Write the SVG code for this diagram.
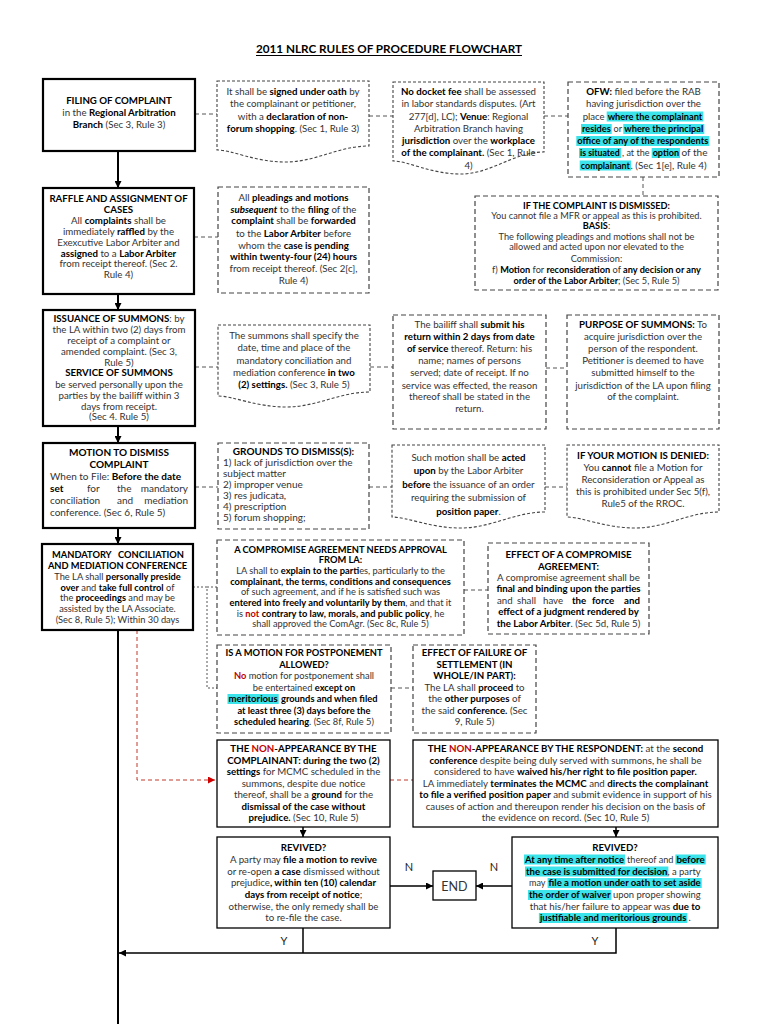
<svg xmlns="http://www.w3.org/2000/svg" width="768" height="1024" viewBox="0 0 768 1024">
<style>
text{font-family:Lato,"Open Sans","Liberation Sans",sans-serif;font-size:9.7px;fill:#333;text-anchor:middle}
.b{font-weight:bold;fill:#000}
.i{font-style:italic}
.r{font-weight:bold;fill:#c00000}
.s{text-anchor:start}
.e{text-anchor:end}
.sm{font-size:9.2px}
.md{font-size:9.3px}
.lg{font-size:10px}
.title{font-size:11px;font-weight:bold;fill:#000}
.lbl{font-size:11px;fill:#222}
.main{fill:#fff;stroke:#000;stroke-width:2.2}
.thin{fill:#fff;stroke:#000;stroke-width:1.3}
.dash{fill:#fff;stroke:#444;stroke-width:1.2;stroke-dasharray:5 3}
.doc{fill:#fff;stroke:#444;stroke-width:1.1;stroke-dasharray:3 2}
.hl{fill:#3be3ea}
.c{fill:none;stroke:#555;stroke-width:1;stroke-dasharray:4 3}
.dot{fill:none;stroke:#555;stroke-width:1;stroke-dasharray:2 2}
.flow{fill:none;stroke:#000;stroke-width:2}
.flow1{fill:none;stroke:#000;stroke-width:1.5}
.red{fill:none;stroke:#c0392b;stroke-width:1;stroke-dasharray:4 3}
</style>
<defs>
<marker id="ah" viewBox="0 0 10 10" refX="10" refY="5" markerWidth="7" markerHeight="7" markerUnits="userSpaceOnUse" orient="auto"><path d="M0,0 L10,5 L0,10 z" fill="#000"/></marker>
<marker id="ahr" viewBox="0 0 10 10" refX="10" refY="5" markerWidth="7" markerHeight="7" markerUnits="userSpaceOnUse" orient="auto"><path d="M0,0 L10,5 L0,10 z" fill="#d00000"/></marker>
</defs>

<g id="title">
<text x="389" y="53" class="title" textLength="266" lengthAdjust="spacingAndGlyphs">2011 NLRC RULES OF PROCEDURE FLOWCHART</text>
<line x1="256" y1="55.5" x2="522" y2="55.5" stroke="#000" stroke-width="1"/>
</g>

<g id="connectors">
<path class="flow" d="M118,151 V188" marker-end="url(#ah)"/>
<path class="flow" d="M118,294 V310" marker-end="url(#ah)"/>
<path class="flow" d="M118,426 V443" marker-end="url(#ah)"/>
<path class="flow" d="M118,528 V544" marker-end="url(#ah)"/>
<path class="flow" d="M118,630 V1024"/>
<path class="c" d="M195,114 H217"/>
<path class="c" d="M369,116 H393"/>
<path class="c" d="M544,116 H568"/>
<path class="c" d="M643,177 V196"/>
<path class="c" d="M194,237 H218"/>
<path class="c" d="M195,367 H218"/>
<path class="c" d="M370,367 H393"/>
<path class="c" d="M546,368 H567"/>
<path class="c" d="M195,487 H218"/>
<path class="c" d="M369,487 H392"/>
<path class="c" d="M545,487 H567"/>
<path class="dot" d="M193,587 H207 V688 H217 M207,587 H217"/>
<path class="c" d="M464,590 H488"/>
<path class="c" d="M391,688 H413"/>
<path class="red" d="M137,630 V780 H215" marker-end="url(#ahr)"/>
<path class="red" d="M390,780 H413"/>
<path class="flow1" d="M303,827 V837" marker-end="url(#ah)"/>
<path class="flow1" d="M616,827 V837" marker-end="url(#ah)"/>
<path class="flow1" d="M390,886 H433" marker-end="url(#ah)"/>
<path class="flow1" d="M512,886 H476" marker-end="url(#ah)"/>
<path class="flow1" d="M303,928 V953"/>
<path class="flow1" d="M616,928 V953 H119" marker-end="url(#ah)"/>
<text x="409" y="871" class="lbl">N</text>
<text x="494" y="871" class="lbl">N</text>
<text x="284" y="945" class="lbl">Y</text>
<text x="595" y="945" class="lbl">Y</text>
</g>

<g id="filing">
<rect class="main" x="43" y="79" width="152" height="72"/>
<text x="119" y="104"><tspan class="b">FILING OF COMPLAINT</tspan></text>
<text x="119" y="116">in the <tspan class="b">Regional Arbitration</tspan></text>
<text x="119" y="128"><tspan class="b">Branch</tspan> (Sec 3, Rule 3)</text>
</g>

<g id="oath">
<path class="doc" d="M217,81 H369 V146 C338.6,146 315.8,162 285.4,162 C255,162 232.2,150 217,150 Z"/>
<text x="293" y="94.5">It shall be <tspan class="b">signed under oath</tspan> by</text>
<text x="293" y="107">the complainant or petitioner,</text>
<text x="293" y="119.5">with a <tspan class="b">declaration of non-</tspan></text>
<text x="293" y="132"><tspan class="b">forum shopping</tspan>. (Sec 1, Rule 3)</text>
</g>

<g id="docket">
<path class="doc" d="M393,82 H544 V152 C513.8,152 491.2,174 461,174 C430.8,174 408.1,161 393,161 Z"/>
<text x="468.5" y="95"><tspan class="b">No docket fee</tspan> shall be assessed</text>
<text x="468.5" y="107">in labor standards disputes. (Art</text>
<text x="468.5" y="119.5">277[d], LC); <tspan class="b">Venue</tspan>: Regional</text>
<text x="468.5" y="132">Arbitration Branch having</text>
<text x="468.5" y="144"><tspan class="b">jurisdiction</tspan> over the <tspan class="b">workplace</tspan></text>
<text x="468.5" y="156"><tspan class="b">of the complainant.</tspan> (Sec 1, Rule</text>
<text x="468.5" y="168.5">4)</text>
</g>

<g id="ofw">
<rect class="dash" x="568" y="82" width="151" height="95"/>
<rect class="hl" x="606.7" y="111.5" width="96.6" height="10"/>
<rect class="hl" x="581" y="124" width="30.7" height="10"/>
<rect class="hl" x="623.3" y="124" width="81" height="10"/>
<rect class="hl" x="576.3" y="136" width="133" height="10"/>
<rect class="hl" x="579" y="148" width="42.2" height="10"/>
<rect class="hl" x="651.7" y="148" width="28.3" height="10"/>
<rect class="hl" x="579.7" y="160.5" width="51.3" height="10"/>
<text x="643.5" y="95"><tspan class="b">OFW:</tspan> filed before the RAB</text>
<text x="643.5" y="107">having jurisdiction over the</text>
<text class="s" x="582.7" y="119.5" textLength="22" lengthAdjust="spacingAndGlyphs">place</text>
<text class="s b" x="607.7" y="119.5" textLength="94.6" lengthAdjust="spacingAndGlyphs">where the complainant</text>
<text class="s b" x="582" y="132" textLength="28.7" lengthAdjust="spacingAndGlyphs">resides</text>
<text class="s" x="613.5" y="132" textLength="8.5" lengthAdjust="spacingAndGlyphs">or</text>
<text class="s b" x="624.3" y="132" textLength="79" lengthAdjust="spacingAndGlyphs">where the principal</text>
<text class="s b" x="577.3" y="144" textLength="131" lengthAdjust="spacingAndGlyphs">office of any of the respondents</text>
<text class="s b" x="580" y="156" textLength="39.7" lengthAdjust="spacingAndGlyphs">is situated</text>
<text class="s" x="622" y="156" textLength="27.5" lengthAdjust="spacingAndGlyphs">, at the</text>
<text class="s b" x="652.7" y="156" textLength="26.3" lengthAdjust="spacingAndGlyphs">option</text>
<text class="s" x="681.5" y="156" textLength="26" lengthAdjust="spacingAndGlyphs">of the</text>
<text class="s b" x="580.7" y="168.5" textLength="49.3" lengthAdjust="spacingAndGlyphs">complainant</text>
<text class="s" x="630.5" y="168.5" textLength="76.2" lengthAdjust="spacingAndGlyphs">. (Sec 1[e], Rule 4)</text>
</g>

<g id="raffle">
<rect class="main" x="43" y="188" width="151" height="106"/>
<text x="118.5" y="202" class="b">RAFFLE AND ASSIGNMENT OF</text>
<text x="118.5" y="213" class="b">CASES</text>
<text x="118.5" y="224">All <tspan class="b">complaints</tspan> shall be</text>
<text x="118.5" y="235">immediately <tspan class="b">raffled</tspan> by the</text>
<text x="118.5" y="246">Exexcutive Labor Arbiter and</text>
<text x="118.5" y="257"><tspan class="b">assigned</tspan> to a <tspan class="b">Labor Arbiter</tspan></text>
<text x="118.5" y="267">from receipt thereof. (Sec 2.</text>
<text x="118.5" y="278">Rule 4)</text>
</g>

<g id="pleadings">
<rect class="dash" x="218" y="187" width="151" height="106"/>
<text x="293.5" y="201">All <tspan class="b">pleadings and motions</tspan></text>
<text x="293.5" y="213"><tspan class="b i">subsequent</tspan> to the <tspan class="b">filing</tspan> of the</text>
<text x="293.5" y="224"><tspan class="b">complaint</tspan> shall be <tspan class="b">forwarded</tspan></text>
<text x="293.5" y="237">to the <tspan class="b">Labor Arbiter</tspan> before</text>
<text x="293.5" y="248.5">whom the <tspan class="b">case is pending</tspan></text>
<text x="293.5" y="260" class="b">within twenty-four (24) hours</text>
<text x="293.5" y="272">from receipt thereof. (Sec 2[c],</text>
<text x="293.5" y="283.5">Rule 4)</text>
</g>

<g id="dismissed">
<rect class="dash" x="475" y="196" width="243" height="94"/>
<text x="596.5" y="208.5" class="sm b">IF THE COMPLAINT IS DISMISSED:</text>
<text x="596.5" y="218.5" class="sm">You cannot file a MFR or appeal as this is prohibited.</text>
<text x="596.5" y="228.5" class="sm"><tspan class="b">BASIS</tspan>:</text>
<text x="596.5" y="240" class="sm">The following pleadings and motions shall not be</text>
<text x="596.5" y="250" class="sm">allowed and acted upon nor elevated to the</text>
<text x="596.5" y="261.5" class="sm">Commission:</text>
<text x="596.5" y="273" class="sm">f) <tspan class="b">Motion</tspan> for <tspan class="b">reconsideration</tspan> of <tspan class="b">any decision or any</tspan></text>
<text x="596.5" y="283.5" class="sm"><tspan class="b">order of the Labor Arbiter</tspan>; (Sec 5, Rule 5)</text>
</g>

<g id="summons">
<rect class="main" x="43" y="310" width="152" height="116"/>
<text x="119" y="322"><tspan class="b">ISSUANCE OF SUMMONS</tspan>: by</text>
<text x="119" y="333">the LA within two (2) days from</text>
<text x="119" y="344">receipt of a complaint or</text>
<text x="119" y="355">amended complaint. (Sec 3,</text>
<text x="119" y="366">Rule 5)</text>
<text x="119" y="376" class="b">SERVICE OF SUMMONS</text>
<text x="119" y="387.5">be served personally upon the</text>
<text x="119" y="398.5">parties by the bailiff within 3</text>
<text x="119" y="409.5">days from receipt.</text>
<text x="119" y="420">(Sec 4. Rule 5)</text>
</g>

<g id="settings">
<path class="doc" d="M218,325 H370 V392 C339.6,392 316.8,407 286.4,407 C256,407 233.2,396 218,396 Z"/>
<text x="294" y="339">The summons shall specify the</text>
<text x="294" y="351">date, time and place of the</text>
<text x="294" y="363.5">mandatory conciliation and</text>
<text x="294" y="376">mediation conference <tspan class="b">in two</tspan></text>
<text x="294" y="388"><tspan class="b">(2) settings.</tspan> (Sec 3, Rule 5)</text>
</g>

<g id="bailiff">
<rect class="dash" x="393" y="315" width="153" height="114"/>
<text x="469.5" y="327.5">The bailiff shall <tspan class="b">submit his</tspan></text>
<text x="469.5" y="340" class="b">return within 2 days from date</text>
<text x="469.5" y="352"><tspan class="b">of service</tspan> thereof. Return: his</text>
<text x="469.5" y="363.5">name; names of persons</text>
<text x="469.5" y="376">served; date of receipt. If no</text>
<text x="469.5" y="388.5">service was effected, the reason</text>
<text x="469.5" y="400">thereof shall be stated in the</text>
<text x="469.5" y="412">return.</text>
</g>

<g id="purpose">
<rect class="dash" x="567" y="315" width="152" height="114"/>
<text x="643" y="327.5"><tspan class="b">PURPOSE OF SUMMONS:</tspan> To</text>
<text x="643" y="340">acquire jurisdiction over the</text>
<text x="643" y="352">person of the respondent.</text>
<text x="643" y="363.5">Petitioner is deemed to have</text>
<text x="643" y="376">submitted himself to the</text>
<text x="643" y="388.5">jurisdiction of the LA upon filing</text>
<text x="643" y="400">of the complaint.</text>
</g>

<g id="motion">
<rect class="main" x="43" y="443" width="152" height="85"/>
<text x="119" y="455.5" class="b lg">MOTION TO DISMISS</text>
<text x="119" y="467.5" class="b lg">COMPLAINT</text>
<text x="50" y="479.5" class="s lg">When to File: <tspan class="b">Before the date</tspan></text>
<text x="50" y="491.5" class="s b lg">set</text>
<text x="87" y="491.5" class="s lg">for</text>
<text x="117" y="491.5" class="s lg">the</text>
<text x="188" y="491.5" class="e lg">mandatory</text>
<text x="50" y="503.5" class="s lg">conciliation</text>
<text x="117" y="503.5" class="s lg">and</text>
<text x="188" y="503.5" class="e lg">mediation</text>
<text x="50" y="515.5" class="s lg">conference. (Sec 6, Rule 5)</text>
</g>

<g id="grounds">
<rect class="dash" x="218" y="443" width="151" height="86"/>
<text x="293.5" y="454.5" class="b lg">GROUNDS TO DISMISS(S):</text>
<text x="223" y="466" class="s lg">1) lack of jurisdiction over the</text>
<text x="223" y="477" class="s lg">subject matter</text>
<text x="223" y="488" class="s lg">2) improper venue</text>
<text x="223" y="499" class="s lg">3)  res judicata,</text>
<text x="223" y="510" class="s lg">4) prescription</text>
<text x="223" y="521" class="s lg">5) forum shopping;</text>
</g>

<g id="acted">
<path class="doc" d="M392,445 H545 V512 C514.4,512 491.5,528 460.9,528 C430.3,528 407.3,517 392,517 Z"/>
<text x="468.5" y="460.5">Such motion shall be <tspan class="b">acted</tspan></text>
<text x="468.5" y="474"><tspan class="b">upon</tspan> by the Labor Arbiter</text>
<text x="468.5" y="487.5"><tspan class="b">before</tspan> the issuance of an order</text>
<text x="468.5" y="501">requiring the submission of</text>
<text x="468.5" y="514.5"><tspan class="b">position paper</tspan>.</text>
</g>

<g id="denied">
<path class="doc" d="M567,445 H719 V512 C688.6,512 665.8,528 635.4,528 C605,528 582.2,517 567,517 Z"/>
<text x="643" y="458.5" class="b">IF YOUR MOTION IS DENIED:</text>
<text x="643" y="470.5">You <tspan class="b">cannot</tspan> file a Motion for</text>
<text x="643" y="482.5">Reconsideration or Appeal as</text>
<text x="643" y="494.5">this is prohibited under Sec 5(f),</text>
<text x="643" y="506.5">Rule5 of the RROC.</text>
</g>

<g id="mcmc">
<rect class="main" x="42" y="544" width="151" height="86"/>
<text x="52" y="558" class="s b md">MANDATORY</text>
<text x="184" y="558" class="e b md">CONCILIATION</text>
<text x="117.5" y="568.5" class="b md">AND MEDIATION CONFERENCE</text>
<text x="117.5" y="580" class="md">The LA shall <tspan class="b">personally preside</tspan></text>
<text x="117.5" y="591" class="md"><tspan class="b">over</tspan> and <tspan class="b">take full control</tspan> of</text>
<text x="117.5" y="601" class="md">the <tspan class="b">proceedings</tspan> and may be</text>
<text x="117.5" y="612" class="md">assisted by the LA Associate.</text>
<text x="117.5" y="622.5" class="md">(Sec 8, Rule 5); Within 30 days</text>
</g>

<g id="compromise">
<rect class="dash" x="217" y="540" width="247" height="95"/>
<text x="340.5" y="552.5" class="b md">A COMPROMISE AGREEMENT NEEDS APPROVAL</text>
<text x="340.5" y="563" class="b md">FROM LA:</text>
<text x="340.5" y="573.5" class="md">LA shall to <tspan class="b">explain to the parti</tspan>es, particularly to the</text>
<text x="340.5" y="584.5" class="b md">complainant, the terms, conditions and consequences</text>
<text x="340.5" y="595" class="md">of such agreement, and if he is satisfied such was</text>
<text x="340.5" y="605.5" class="md"><tspan class="b">entered into freely and voluntarily by them</tspan>, and that it</text>
<text x="340.5" y="616.5" class="md">is <tspan class="r">not</tspan> <tspan class="b">contrary to law, morals, and public policy</tspan>, he</text>
<text x="340.5" y="627" class="md">shall approved the ComAgr. (Sec 8c, Rule 5)</text>
</g>

<g id="effect">
<rect class="dash" x="488" y="543" width="161" height="91"/>
<text x="568.5" y="558" class="b">EFFECT OF A COMPROMISE</text>
<text x="568.5" y="569.5" class="b">AGREEMENT:</text>
<text x="568.5" y="580.5">A compromise agreement shall be</text>
<text x="568.5" y="592" class="b">final and binding upon the parties</text>
<text x="497" y="603.5" class="s">and</text>
<text x="517" y="603.5" class="s">shall</text>
<text x="543" y="603.5" class="s">have</text>
<text x="572" y="603.5" class="s b">the</text>
<text x="592" y="603.5" class="s b">force</text>
<text x="640" y="603.5" class="e b">and</text>
<text x="568.5" y="615" class="b">effect of a judgment rendered by</text>
<text x="568.5" y="627"><tspan class="b">the Labor Arbiter</tspan>. (Sec 5d, Rule 5)</text>
</g>

<g id="postponement">
<rect class="dash" x="217" y="645" width="174" height="88"/>
<rect class="hl" x="227.5" y="694" width="51.2" height="10"/>
<text x="304" y="656" class="b md">IS A MOTION FOR POSTPONEMENT</text>
<text x="304" y="667.5" class="b md">ALLOWED?</text>
<text x="304" y="679" class="md"><tspan class="r">No</tspan> motion for postponement shall</text>
<text x="304" y="690.5" class="md">be entertained <tspan class="b">except on</tspan></text>
<text x="228.5" y="702" class="s b md" textLength="49.2" lengthAdjust="spacingAndGlyphs">meritorious</text>
<text x="281" y="702" class="s b md" textLength="96.5" lengthAdjust="spacingAndGlyphs">grounds and when filed</text>
<text x="304" y="713.5" class="b md">at least three (3) days before the</text>
<text x="304" y="725" class="md"><tspan class="b">scheduled hearing</tspan>. (Sec 8f, Rule 5)</text>
</g>

<g id="failure">
<rect class="dash" x="413" y="645" width="123" height="88"/>
<text x="474.5" y="656" class="b">EFFECT OF FAILURE OF</text>
<text x="474.5" y="667.5" class="b">SETTLEMENT (IN</text>
<text x="474.5" y="679" class="b">WHOLE/IN PART):</text>
<text x="474.5" y="690.5">The LA shall <tspan class="b">proceed</tspan> to</text>
<text x="474.5" y="702">the <tspan class="b">other purposes</tspan> of</text>
<text x="474.5" y="713.5">the said <tspan class="b">conference.</tspan> (Sec</text>
<text x="474.5" y="725">9, Rule 5)</text>
</g>

<g id="nonapp-complainant">
<rect class="thin" x="217" y="740" width="173" height="87"/>
<text x="303.5" y="752"><tspan class="b">THE </tspan><tspan class="r">NON</tspan><tspan class="b">-APPEARANCE BY THE</tspan></text>
<text x="303.5" y="763.5" class="b">COMPLAINANT:  during the two (2)</text>
<text x="303.5" y="775"><tspan class="b">settings</tspan> for MCMC scheduled in the</text>
<text x="303.5" y="786.5">summons, despite due notice</text>
<text x="303.5" y="798">thereof, shall be a <tspan class="b">ground</tspan> for the</text>
<text x="303.5" y="809.5" class="b">dismissal of the case without</text>
<text x="303.5" y="821"><tspan class="b">prejudice.</tspan> (Sec 10, Rule 5)</text>
</g>

<g id="nonapp-respondent">
<rect class="thin" x="413" y="740" width="305" height="87"/>
<text x="565.5" y="752"><tspan class="b">THE </tspan><tspan class="r">NON</tspan><tspan class="b">-APPEARANCE BY THE RESPONDENT:</tspan>  at the <tspan class="b">second</tspan></text>
<text x="565.5" y="763.5"><tspan class="b">conference</tspan> despite being duly served with summons, he shall be</text>
<text x="565.5" y="775">considered to have <tspan class="b">waived his/her right to file position paper.</tspan></text>
<text x="565.5" y="786.5">LA immediately <tspan class="b">terminates the MCMC</tspan> and <tspan class="b">directs the complainant</tspan></text>
<text x="565.5" y="798"><tspan class="b">to file a verified position paper</tspan> and submit evidence in support of his</text>
<text x="565.5" y="809.5">causes of action and thereupon render his decision on the basis of</text>
<text x="565.5" y="821">the evidence on record. (Sec 10, Rule 5)</text>
</g>

<g id="revived-left">
<rect class="thin" x="217" y="837" width="173" height="91"/>
<text x="303.5" y="851" class="b">REVIVED?</text>
<text x="303.5" y="862.5">A party may <tspan class="b">file a motion to revive</tspan></text>
<text x="303.5" y="874.5">or re-open <tspan class="b">a case</tspan> dismissed without</text>
<text x="303.5" y="886">prejudice<tspan class="b">, within ten (10) calendar</tspan></text>
<text x="303.5" y="898"><tspan class="b">days from receipt of notice</tspan>;</text>
<text x="303.5" y="909.5">otherwise, the only remedy shall be</text>
<text x="303.5" y="921">to re-file the case.</text>
</g>

<g id="end">
<rect class="thin" x="433" y="871" width="43" height="29"/>
<text x="454.5" y="890.5" style="font-size:12.5px">END</text>
</g>

<g id="revived-right">
<rect class="thin" x="512" y="837" width="206" height="91"/>
<rect class="hl" x="524" y="854.5" width="101" height="10"/>
<rect class="hl" x="675.4" y="854.5" width="30.3" height="10"/>
<rect class="hl" x="525" y="866.5" width="143.4" height="10"/>
<rect class="hl" x="547.6" y="878" width="154.1" height="10"/>
<rect class="hl" x="528" y="890" width="83.5" height="10"/>
<rect class="hl" x="538.9" y="913" width="148.4" height="10"/>
<text x="615" y="851" class="b">REVIVED?</text>
<text class="s b" x="525" y="862.5" textLength="99" lengthAdjust="spacingAndGlyphs">At any time after notice</text>
<text class="s" x="627" y="862.5" textLength="46.5" lengthAdjust="spacingAndGlyphs">thereof and</text>
<text class="s b" x="676.4" y="862.5" textLength="28.3" lengthAdjust="spacingAndGlyphs">before</text>
<text class="s b" x="526" y="874.5" textLength="141.4" lengthAdjust="spacingAndGlyphs">the case is submitted  for decision</text>
<text class="s" x="667.4" y="874.5" textLength="33.3" lengthAdjust="spacingAndGlyphs">,  a party</text>
<text class="s" x="529" y="886" textLength="16.5" lengthAdjust="spacingAndGlyphs">may</text>
<text class="s b" x="548.6" y="886" textLength="152.1" lengthAdjust="spacingAndGlyphs">file a motion under oath to set aside</text>
<text class="s b" x="529" y="898" textLength="81.5" lengthAdjust="spacingAndGlyphs">the order of waiver</text>
<text class="s" x="613" y="898" textLength="87.7" lengthAdjust="spacingAndGlyphs">upon proper showing</text>
<text x="615" y="909.5">that his/her failure to appear was <tspan class="b">due to</tspan></text>
<text class="s b" x="539.9" y="921" textLength="146.4" lengthAdjust="spacingAndGlyphs">justifiable and meritorious grounds</text>
<text class="s" x="688.6" y="921">.</text>
</g>
</svg>
